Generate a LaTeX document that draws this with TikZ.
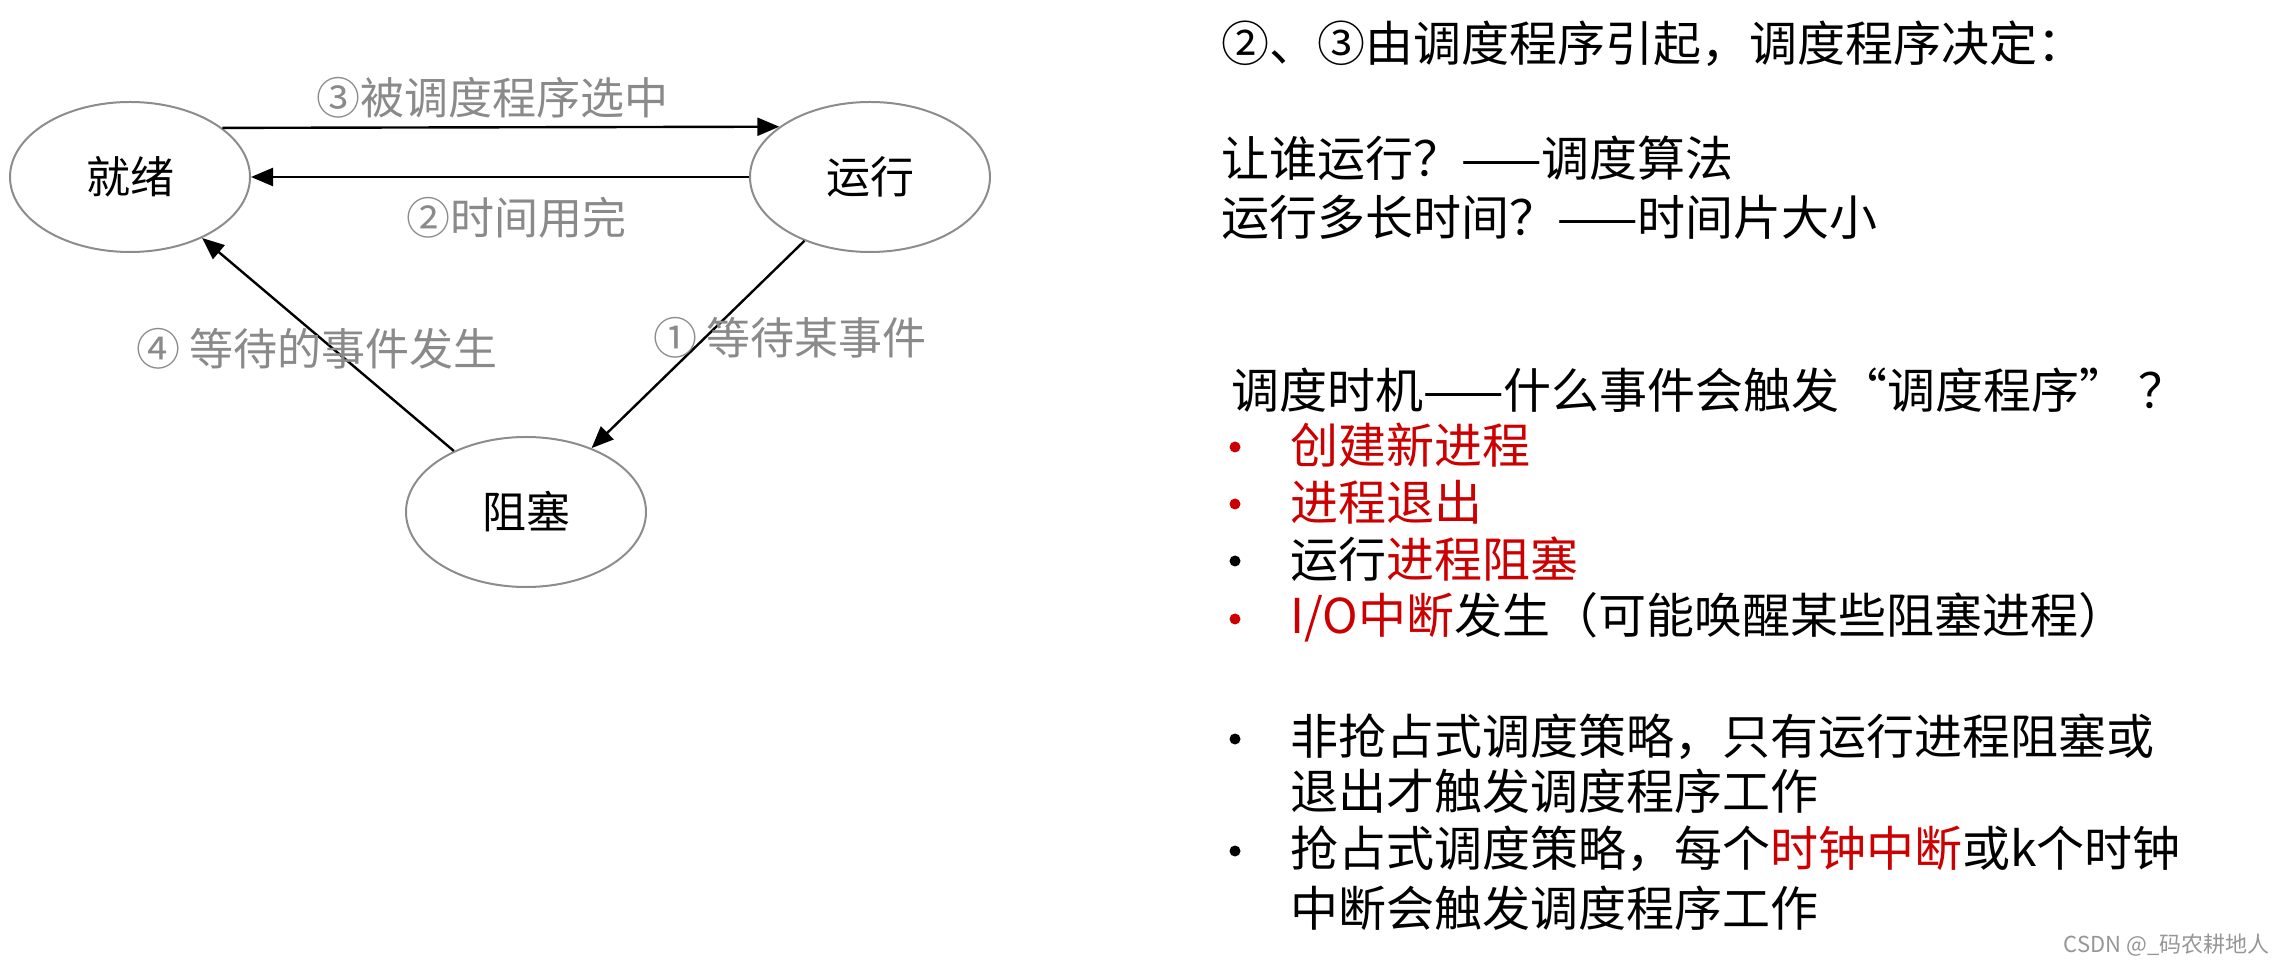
\documentclass[tikz,border=0pt]{standalone}
\usepackage{fontspec}
\setmainfont{Noto Sans CJK SC}
\usetikzlibrary{arrows.meta,shapes.geometric}
\definecolor{lbl}{RGB}{138,138,138}
\definecolor{edgegray}{RGB}{140,140,140}
\definecolor{hl}{RGB}{204,0,0}
\definecolor{wm}{RGB}{150,150,150}
\begin{document}
\begin{tikzpicture}[x=0.5pt,y=-0.5pt,
  state/.style={ellipse,draw=edgegray,line width=1pt,minimum width=120pt,minimum height=75pt,inner sep=0pt,font=\fontsize{22pt}{26pt}\selectfont},
  trans/.style={line width=1.2pt,-{Triangle[length=11pt,width=9pt]}},
  lab/.style={text=lbl,font=\fontsize{22pt}{26pt}\selectfont,inner sep=0pt},
  txt/.style={anchor=west,inner sep=0pt,font=\fontsize{24pt}{28pt}\selectfont},
  bul/.style={circle,fill=black,inner sep=0pt,minimum size=5.5pt}
]
\useasboundingbox (0,0) rectangle (2280,961);

% states
\node[state] (jx) at (130,177) {就绪};
\node[state] (yx) at (870,177) {运行};
\node[state] (zs) at (526,512) {阻塞};

% transitions
\draw[trans] (jx.28.4) -- (yx.151.6);
\draw[trans] (yx) -- (jx);
\draw[trans] (yx) -- (zs);
\draw[trans] (zs) -- (jx);

% transition labels
\node[lab] (l3) at (492,98) {③被调度程序选中};
\node[lab] (l2) at (516,218) {②时间用完};
\node[lab] (l4) at (317,349) {④ 等待的事件发生};
\node[lab] (l1) at (790,338) {① 等待某事件};

% right text
\node[txt] (t1) at (1221,44) {②、③由调度程序引起，调度程序决定：};
\node[txt] (t2) at (1221,158) {让谁运行？——调度算法};
\node[txt] (t3) at (1221,217) {运行多长时间？——时间片大小};
\node[txt] (t4) at (1231,390) {调度时机——什么事件会触发“调度程序” ？};

\node[bul,fill=hl] (d1) at (1235,447) {};
\node[txt,text=hl] (b1) at (1290,445) {创建新进程};
\node[bul,fill=hl] (d2) at (1235,504) {};
\node[txt,text=hl] (b2) at (1290,502) {进程退出};
\node[bul] (d3) at (1235,561) {};
\node[txt] (b3) at (1290,559) {运行{\color{hl}进程阻塞}};
\node[bul,fill=hl] (d4) at (1235,619) {};
\node[txt] (b4) at (1290,617) {{\color{hl}I/O中断}发生（可能唤醒某些阻塞进程）};

\node[bul] (d5) at (1235,739) {};
\node[txt] (b5) at (1290,737) {非抢占式调度策略，只有运行进程阻塞或};
\node[txt] (b5b) at (1290,791) {退出才触发调度程序工作};
\node[bul] (d6) at (1235,851) {};
\node[txt] (b6) at (1290,849) {抢占式调度策略，每个{\color{hl}时钟中断}或k个时钟};
\node[txt] (b6b) at (1290,908) {中断会触发调度程序工作};

\node[anchor=east,inner sep=0pt,text=wm,font=\fontsize{11pt}{13pt}\selectfont] (wmk) at (2270,945) {CSDN @\_码农耕地人};
\end{tikzpicture}
\end{document}
